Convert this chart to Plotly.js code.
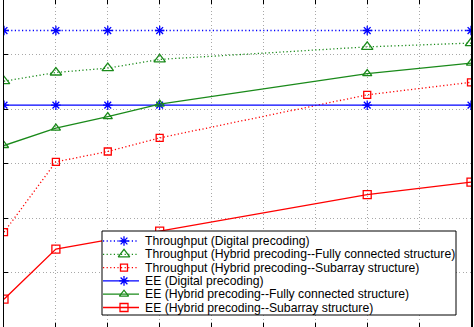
<!DOCTYPE html>
<html>
<head>
<meta charset="utf-8">
<script src="https://cdn.plot.ly/plotly-3.0.1.min.js"></script>
<style>html,body{margin:0;padding:0;background:#fff;}#chart{width:474px;height:327px;}</style>
</head>
<body>
<div id="chart"></div>
<script>
const xVals = [1, 2, 3, 4, 8, 10];
const thrDigital = [5.44, 5.44, 5.44, 5.44, 5.44, 5.44];
const thrHybridFull = [4.51, 4.67, 4.75, 4.91, 5.14, 5.21];
const thrHybridSub = [1.74, 3.03, 3.22, 3.47, 4.26, 4.49];
const eeDigital = [4.07, 4.07, 4.07, 4.07, 4.07, 4.07];
const eeHybridFull = [3.33, 3.65, 3.86, 4.09, 4.65, 4.84];
const eeHybridSub = [0.51, 1.43, 1.60, 1.76, 2.43, 2.66];
const names = [
  'Throughput (Digital precoding)',
  'Throughput (Hybrid precoding--Fully connected structure)',
  'Throughput (Hybrid precoding--Subarray structure)',
  'EE (Digital precoding)',
  'EE (Hybrid precoding--Fully connected structure)',
  'EE (Hybrid precoding--Subarray structure)'
];
const BLUE = '#0000ff', GREEN = '#1a8a1a', RED = '#ff0000';
const colors = [BLUE, GREEN, RED, BLUE, GREEN, RED];
const DOT = '1.2px,2.4px';
const dashes = [DOT, DOT, DOT, 'solid', 'solid', 'solid'];
const symbols = ['asterisk-open', 'triangle-up-open', 'square-open', 'asterisk-open', 'triangle-up-open', 'square-open'];
const sizes = [8, 10, 7, 8, 8, 8];
const series = [thrDigital, thrHybridFull, thrHybridSub, eeDigital, eeHybridFull, eeHybridSub];

const data = [];
series.forEach(function (y, i) {
  data.push({
    x: xVals, y: y, name: names[i], type: 'scatter', mode: 'lines+markers',
    showlegend: false, hoverinfo: 'none',
    line: {color: colors[i], width: 1.3, dash: dashes[i]},
    marker: {symbol: symbols[i], size: sizes[i], color: colors[i], line: {color: colors[i], width: 1.3}}
  });
});

// Legend drawn on an overlay axis whose units are pixels
const LEG = {x0: 102, x1: 456, y0: 231, y1: 315, rowTop: 241, rowGap: 13.3, sx0: 103, sx1: 139, sm: 124, tx: 144};
data.push({
  x: [LEG.x0, LEG.x1, LEG.x1, LEG.x0, LEG.x0], y: [LEG.y0, LEG.y0, LEG.y1, LEG.y1, LEG.y0],
  xaxis: 'x2', yaxis: 'y2', type: 'scatter', mode: 'lines', fill: 'toself',
  fillcolor: '#ffffff', line: {color: '#000', width: 1}, showlegend: false, hoverinfo: 'none'
});
const annotations = [];
names.forEach(function (nm, i) {
  const ry = LEG.rowTop + i * LEG.rowGap;
  data.push({
    x: [LEG.sx0, LEG.sx1], y: [ry, ry], xaxis: 'x2', yaxis: 'y2', type: 'scatter', mode: 'lines',
    line: {color: colors[i], width: 1.3, dash: dashes[i]},
    showlegend: false, hoverinfo: 'none'
  });
  data.push({
    x: [LEG.sm], y: [ry], xaxis: 'x2', yaxis: 'y2', type: 'scatter', mode: 'markers',
    marker: {symbol: symbols[i], size: sizes[i], color: colors[i], line: {color: colors[i], width: 1.3}},
    showlegend: false, hoverinfo: 'none'
  });
  annotations.push({
    xref: 'x2', yref: 'y2', x: LEG.tx, y: ry, text: nm, showarrow: false,
    xanchor: 'left', yanchor: 'middle', borderpad: 0,
    font: {family: 'Liberation Sans, Arial, sans-serif', size: 12.2, color: '#000'}
  });
});

const layout = {
  width: 474, height: 327,
  margin: {l: 4, r: 3, t: 0, b: 0, pad: 0},
  paper_bgcolor: '#fff', plot_bgcolor: '#fff',
  font: {family: 'Liberation Sans, Arial, sans-serif', size: 12, color: '#000'},
  showlegend: false,
  annotations: annotations,
  xaxis: {
    range: [1, 10], dtick: 1, tick0: 1, showticklabels: false,
    showgrid: true, gridcolor: '#a8a8a8', griddash: '1px,2.5px', gridwidth: 1,
    ticks: 'inside', ticklen: 4, tickcolor: '#000', mirror: 'ticks',
    showline: false, zeroline: false
  },
  yaxis: {
    range: [0, 6], dtick: 1, tick0: 0, showticklabels: false,
    showgrid: true, gridcolor: '#a8a8a8', griddash: '1px,2.5px', gridwidth: 1,
    ticks: 'inside', ticklen: 4, tickcolor: '#000', mirror: true,
    showline: true, linecolor: '#000', linewidth: 1.5, zeroline: false
  },
  xaxis2: {overlaying: 'x', anchor: 'y2', range: [4, 471], visible: false, fixedrange: true},
  yaxis2: {overlaying: 'y', anchor: 'x2', range: [327, 0], visible: false, fixedrange: true}
};
Plotly.newPlot('chart', data, layout, {displayModeBar: false, staticPlot: true});
</script>
</body>
</html>
